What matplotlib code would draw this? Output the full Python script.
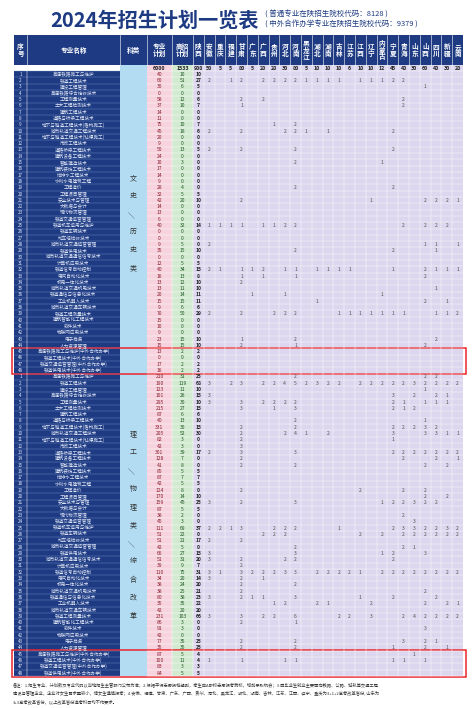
import matplotlib
matplotlib.use("Agg")
import matplotlib.pyplot as plt
from matplotlib.patches import Rectangle

plt.rcParams['font.family'] = ['Noto Sans CJK SC', 'DejaVu Sans']

provinces = ["陕西","安徽","重庆","福建","甘肃","广东","广西","贵州","河北","河南","黑龙江","湖北",
             "湖南","吉林","江苏","江西","辽宁","内蒙古","宁夏","青海","山东","山西","四川","新疆","云南"]
totals = [6000,1533,900,50,5,5,80,5,20,20,30,80,5,10,10,10,6,10,10,12,45,40,30,60,40,30,20]

names = ["高速铁路施工与维护","铁道工程技术","建设工程管理","高速铁路综合维修技术","工程测量技术",
         "土木工程检测技术","建筑工程技术","道路与桥梁工程技术","地下与隧道工程技术(盾构施工)",
         "城市轨道交通工程技术","地下与隧道工程技术(钻爆施工)","市政工程技术","道路桥梁工程技术",
         "建筑设备工程技术","智能建造技术","建筑装饰工程技术","给排水工程技术","水利水电建筑工程",
         "工程造价","工程项目管理","安全技术与管理","大数据与会计","现代物流管理","铁道交通运营管理",
         "铁道机车运用与维护","铁道车辆技术","动车组检修技术","城市轨道交通运营管理","铁道供电技术",
         "城市轨道交通通信信号技术","计算机应用技术","铁道信号自动控制","电气自动化技术","机电一体化技术",
         "城市轨道交通机电技术","铁道通信与信息化技术","工业机器人技术","城市轨道交通车辆技术",
         "铁道工程测量技术","建筑智能化工程技术","软件技术","物联网应用技术","电子商务","人力资源管理",
         "高速铁路施工与维护(中外合作办学)","铁道工程技术(中外合作办学)","铁道交通运营管理(中外合作办学)",
         "铁道供电技术(中外合作办学)"]

plan1 = [40,60,30,0,58,37,14,11,75,45,20,9,50,24,10,17,14,9,28,32,42,14,13,6,40,0,0,9,35,0,12,40,
         16,13,13,20,15,9,70,15,10,9,23,15,13,0,17,16]
gz1 = [10,51,6,0,12,10,0,0,10,18,0,0,13,0,3,0,0,0,4,5,20,0,0,0,32,0,0,5,15,0,5,34,13,12,11,14,15,6,
       50,0,0,0,15,15,2,0,2,2]
sx1 = [10,27,5,0,6,7,0,0,7,6,0,0,5,0,0,0,0,0,0,5,10,0,0,0,14,0,0,0,10,0,5,15,8,10,10,11,11,6,29,0,
       0,0,10,10,2,0,2,2]
plan2 = [210,190,123,101,295,215,87,40,331,205,82,42,301,128,41,85,87,42,124,170,159,87,38,45,111,51,
         51,42,66,51,39,110,34,38,38,80,35,42,231,86,91,42,77,35,87,100,83,84]
gz2 = [31,119,11,26,30,27,6,13,30,52,3,3,39,7,8,5,7,5,8,14,45,5,2,3,69,22,21,5,27,31,9,75,20,24,25,
       38,35,20,103,3,3,0,35,35,5,11,3,5]
sx2 = [25,68,10,15,10,15,6,10,15,30,0,0,17,0,0,5,7,5,0,10,25,5,0,0,37,0,17,0,15,20,7,31,14,20,21,23,
       22,20,66,0,0,0,25,25,4,4,3,5]

# other provinces (index 0 = 安徽 ... 23 = 云南): row -> {col: value}
prov1 = {
 2: {0:2,2:1,3:2,5:2,6:2,7:2,8:2,9:1,10:1,11:1,12:1,14:1,15:1,16:1,17:2,18:2},
 3: {20:1}, 5: {3:2,5:2,18:2}, 6: {3:1,18:2}, 9: {6:1,8:2},
 10: {0:2,3:2,7:2,8:2,9:1,11:1,17:2}, 13: {0:2,3:2,8:2,17:2}, 15: {8:2,16:1},
 19: {8:2,17:2}, 21: {3:2,15:1,20:2,21:2,22:2,23:1},
 25: {0:1,1:1,2:1,3:1,5:1,6:1,7:2,8:2,18:2,20:2,21:2,22:2},
 28: {0:2,20:1,21:1,23:1}, 29: {8:2,17:2,21:1},
 32: {0:2,1:1,3:1,4:1,5:2,7:1,8:1,10:1,11:1,12:1,13:1,17:1,20:2,21:1,22:1,23:1},
 33: {3:1,5:1,8:1,20:2}, 34: {3:2}, 35: {21:1}, 36: {4:1,7:1,16:1}, 37: {10:1,20:2,22:1},
 39: {0:2,3:2,6:2,7:2,8:2,12:1,13:1,14:1,15:1,16:1,17:1,18:1,21:1,22:1,23:2},
 43: {3:1,8:2,21:2}, 44: {3:2,8:1,20:2},
}
prov2 = {
 1: {8:2,20:2,21:2},
 2: {0:3,2:2,3:3,5:2,6:2,7:4,8:5,9:2,10:3,11:2,12:2,14:2,15:2,16:2,17:2,18:2,19:3,20:2,21:2,22:2,23:2},
 3: {20:1}, 4: {0:3,17:3,19:2,21:2,22:1}, 5: {0:3,3:3,5:2,6:2,7:2,8:2,17:2,18:1,20:1,21:1,22:1},
 6: {3:3,6:1,8:3,17:2,18:1,19:2}, 8: {8:2,20:1}, 9: {3:2,8:2,17:2,18:2,19:2,20:3,21:2},
 10: {3:2,7:2,8:4,9:1,11:2,17:3,20:3,21:3,22:1,23:1}, 11: {3:2,17:1}, 12: {3:3},
 13: {0:2,3:3,8:3,17:2,18:2,19:2,20:2,21:2,22:2,23:2}, 14: {3:2,18:2,21:2,23:1},
 15: {3:2,8:2,20:2,22:2}, 19: {3:2,14:2,18:2,20:2}, 20: {20:2,22:2},
 21: {0:3,3:2,8:3,16:1,17:2,18:2,19:3,20:2,21:2}, 23: {18:2}, 24: {19:3},
 25: {0:2,1:2,2:1,3:3,6:2,7:2,8:2,12:1,17:2,18:3,19:3,20:2,21:2,22:3,23:2},
 26: {5:2,6:2,7:2,14:2,16:2,18:2,19:2,20:2,21:2,22:2,23:2}, 27: {0:2,3:2}, 28: {8:2,18:2,19:1},
 29: {0:3,8:3,16:1,17:2,20:3}, 30: {0:3,3:2,7:2,8:2,17:2}, 31: {3:2},
 32: {0:3,1:1,3:3,4:2,5:2,6:2,7:3,8:3,10:2,11:2,12:2,13:2,14:1,16:2,17:2,18:2,19:2,20:2,21:2,22:2,23:2},
 33: {0:3,3:2,5:1}, 34: {3:2,8:2}, 35: {3:2,20:2}, 36: {0:3,3:2,4:1,5:1,8:3,14:1,17:2,21:2},
 37: {6:1,7:2,10:2,11:1,15:2,20:2,22:2,23:1},
 39: {0:3,3:3,5:2,6:2,8:6,12:2,13:2,15:3,18:2,19:4,20:2,21:2,22:2,23:2},
 40: {3:2,8:1}, 41: {20:3}, 43: {3:2,8:2,18:3,20:2,21:1}, 44: {3:2,8:2,17:1,20:2,22:1},
 45: {19:1}, 46: {0:1,3:1,7:1,8:1,17:1,18:1,20:1},
}

NAVY = "#1d3a82"
fig = plt.figure(figsize=(4.74, 7.08), dpi=100)
ax = fig.add_axes([0, 0, 1, 1])
ax.set_xlim(0, 474); ax.set_ylim(708, 0); ax.axis("off")

def rect(x, y, w, h, fc, ec="none", lw=0):
    ax.add_patch(Rectangle((x, y), w, h, facecolor=fc, edgecolor=ec, linewidth=lw))

# title
ax.text(155, 20, "2024年招生计划一览表", ha="center", va="center", fontsize=14.5, color=NAVY, fontweight="bold")
ax.text(265, 15, "( 普通专业在陕招生院校代码：8128 )", ha="left", va="center", fontsize=5.4, color=NAVY)
ax.text(265, 25, "( 中外合作办学专业在陕招生院校代码：9379 )", ha="left", va="center", fontsize=5.4, color=NAVY)

# column geometry
x0, xn, xk, xp, xg, xs, xe = 14, 27, 120, 147, 172, 193, 463
pw = (xe - xs) / 25
ytop, yhead, ytot, yrow0 = 35, 65, 71, 71
rh = (676 - 71) / 96

rect(x0, ytop, xe - x0, yhead - ytop, NAVY)
hdr = [((x0 + xn) / 2, "序\n号"), ((xn + xk) / 2, "专业名称"), ((xk + xp) / 2, "科类"),
       ((xp + xg) / 2, "专业\n计划"), ((xg + xs) / 2, "高招\n计划")]
for cx, t in hdr:
    ax.text(cx, (ytop + yhead) / 2, t, ha="center", va="center", fontsize=4.8, color="white",
            fontweight="bold", linespacing=1.0)
for i, p in enumerate(provinces):
    cx = xs + (i + 0.5) * pw
    ax.text(cx, (ytop + yhead) / 2, "\n".join(p), ha="center", va="center", fontsize=4.8,
            color="white", fontweight="bold", linespacing=0.95)
    if i > 0:
        ax.plot([xs + i * pw] * 2, [ytop, yhead], color="white", lw=0.4)
for xx in [xn, xk, xp, xg, xs]:
    ax.plot([xx, xx], [ytop, yhead], color="white", lw=0.4)

# body backgrounds
ybot = yrow0 + 96 * rh
rect(x0, ytot, xk - x0, ybot - ytot, NAVY)
rect(xk, yhead, xp - xk, ybot - yhead, "#b3dcf3")
rect(xp, yhead, xg - xp, ybot - yhead, "#f6d3de")
rect(xg, yhead, xs - xg, ybot - yhead, "#d2ead0")
rect(xs, yhead, xe - xs, ybot - yhead, "#dcd7ee")
rect(x0, yhead, xk - x0, ytot - yhead, "white")

# total row
ty = (yhead + ytot) / 2 + 0.3
ax.text((xp + xg) / 2, ty, str(totals[0]), ha="center", va="center", fontsize=3.8, fontweight="bold", color="#222")
ax.text((xg + xs) / 2, ty, str(totals[1]), ha="center", va="center", fontsize=3.8, fontweight="bold", color="#222")
for i, v in enumerate(totals[2:]):
    ax.text(xs + (i + 0.5) * pw, ty, str(v), ha="center", va="center", fontsize=3.8, fontweight="bold", color="#222")

# grid
for k in range(97):
    y = yrow0 + k * rh
    ax.plot([x0, xk], [y, y], color="#8fa3d6", lw=0.25)
    ax.plot([xp, xe], [y, y], color="white", lw=0.3)
for i in range(1, 25):
    ax.plot([xs + i * pw] * 2, [yhead, ybot], color="white", lw=0.35)
for xx in [xn, xg, xs]:
    ax.plot([xx, xx], [ytot if xx == xn else yhead, ybot], color="white", lw=0.35)

blocks = [(plan1, gz1, sx1, prov1), (plan2, gz2, sx2, prov2)]
for b, (pl, gz, sx, pv) in enumerate(blocks):
    for r in range(48):
        cy = yrow0 + (b * 48 + r + 0.5) * rh + 0.2
        ax.text((x0 + xn) / 2, cy, str(r + 1), ha="center", va="center", fontsize=3.3, color="#dde4f5")
        ax.text((xn + xk) / 2, cy, names[r], ha="center", va="center", fontsize=3.3, color="#dde4f5")
        ax.text((xp + xg) / 2, cy, str(pl[r]), ha="center", va="center", fontsize=3.6, color="#8a1f2e")
        ax.text((xg + xs) / 2, cy, str(gz[r]), ha="center", va="center", fontsize=3.6, color="#1f5a25")
        ax.text(xs + 0.5 * pw, cy, str(sx[r]), ha="center", va="center", fontsize=3.6, color="#222", fontweight="bold")
        for c, v in pv.get(r + 1, {}).items():
            ax.text(xs + (c + 1.5) * pw, cy, str(v), ha="center", va="center", fontsize=3.6, color="#555")
    # red box rows 45-48
    yb = yrow0 + (b * 48 + 44) * rh
    ax.add_patch(Rectangle((12, yb - 0.5), 454, 4 * rh + 1, facecolor="none", edgecolor="#e8262b", lw=1.1))

# category labels
cx = (xk + xp) / 2
lab1 = "文史／历史类"
for i, ch in enumerate(lab1):
    ax.text(cx, 178 + i * 18, ch, ha="center", va="center", fontsize=5, color="#333",
            rotation=90 if ch == "／" else 0)
lab2 = "理工／物理类／综合改革"
for i, ch in enumerate(lab2):
    ax.text(cx, 434 + i * 18.2, ch, ha="center", va="center", fontsize=5, color="#333",
            rotation=90 if ch == "／" else 0)

note = ("备注：1.招生专业、计划数及专业代码以当地招生主管部门公布为准；2.根据平行志愿投档规则，考生应A部校志愿报考我校，增加录取机会；3.因毕业生就业主要面向铁路、公路、城轨等交通工程\n"
        "建设与管理企业，企业对女生需求量较小，请女生谨慎报考；4.安徽、福建、甘肃、广东、广西、贵州、河北、黑龙江、湖北、湖南、吉林、江苏、江西、辽宁、重庆为3+1+2高考改革省份, 山东为\n"
        "3+3高考改革省份，以上改革省份选考科目均不作要求。")
ax.text(13, 683, note, ha="left", va="top", fontsize=3.05, color="#333", linespacing=1.7)

fig.savefig("out.png", dpi=100)
